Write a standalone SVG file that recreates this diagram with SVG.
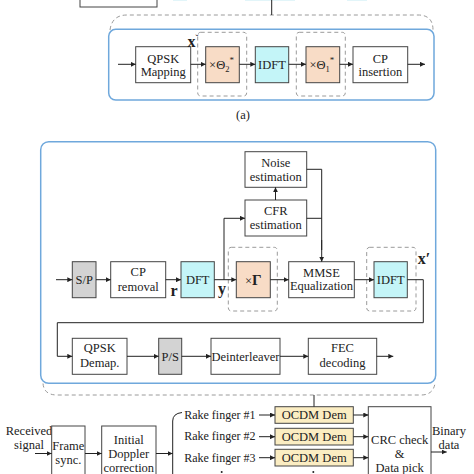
<svg xmlns="http://www.w3.org/2000/svg" width="474" height="474" viewBox="0 0 474 474">
<defs>
<marker id="ah" viewBox="0 0 10 10" refX="10" refY="5" markerWidth="5" markerHeight="5" orient="auto" markerUnits="userSpaceOnUse"><path d="M0,0 L10,5 L0,10 z" fill="#222"/></marker>
</defs>
<style>
text{font-family:"Liberation Serif","Times New Roman",serif;font-size:12.5px;fill:#222;text-anchor:middle}
.b{fill:#fff;stroke:#444;stroke-width:1}
.cy{fill:#c4f5f8;stroke:#444;stroke-width:1}
.pe{fill:#f8dcc6;stroke:#444;stroke-width:1}
.gr{fill:#d3d3d3;stroke:#444;stroke-width:1}
.ye{fill:#fbedc2;stroke:#444;stroke-width:1}
.blue{fill:none;stroke:#6fa8dc;stroke-width:1.5}
.dash{fill:none;stroke:#9a9a9a;stroke-width:1;stroke-dasharray:4,3}
.ln{fill:none;stroke:#222;stroke-width:1}
.ar{fill:none;stroke:#222;stroke-width:1;marker-end:url(#ah)}
.bv{font-weight:bold;font-size:16px}
.faint{fill:#e2f5f9}
.rk{font-size:12px;text-anchor:end}
</style>

<!-- top remnant -->
<g id="top-remnant">
<rect class="b" x="80" y="-10" width="77" height="17"/>
<rect class="faint" x="173" y="-3" width="14" height="4"/>
<rect class="faint" x="245" y="-3" width="50" height="4"/>
<rect class="faint" x="347" y="-3" width="20" height="4"/>
</g>

<!-- section (a) -->
<g id="frame-a">
<path class="dash" d="M110,30 Q112,15 127,15 H418 Q433,15 433,30"/>
<rect class="blue" x="108.7" y="29.3" width="325.3" height="70.7" rx="7"/>
<rect class="dash" x="197.7" y="32.3" width="49" height="63.7" rx="3"/>
<rect class="dash" x="296.3" y="32.3" width="49" height="63.7" rx="3"/>
</g>
<g id="qpsk-map"><rect class="b" x="135.7" y="46.7" width="55" height="36"/><text x="163.2" y="62.5">QPSK</text><text x="163.2" y="76">Mapping</text></g>
<g id="theta2"><rect class="pe" x="205.7" y="46.7" width="33.6" height="36"/><text x="221.5" y="69" font-size="13.5">×Θ<tspan font-size="8.5" dy="3">2</tspan><tspan font-size="9" dy="-9">*</tspan></text></g>
<g id="idft-a"><rect class="cy" x="255.3" y="46.7" width="33.4" height="36"/><text x="272" y="68.7">IDFT</text></g>
<g id="theta1"><rect class="pe" x="306" y="46.7" width="33.7" height="36"/><text x="321.8" y="69" font-size="13.5">×Θ<tspan font-size="8.5" dy="3">1</tspan><tspan font-size="9" dy="-9">*</tspan></text></g>
<g id="cp-ins"><rect class="b" x="353" y="46.7" width="54.7" height="36"/><text x="380.3" y="62.5">CP</text><text x="380.3" y="76">insertion</text></g>
<g id="label-x"><text class="bv" x="193" y="47" font-size="14">x<tspan font-size="9" font-weight="normal" dy="-6">ˇ</tspan></text></g>
<g id="label-a"><text x="243" y="119">(a)</text></g>

<!-- section (b) -->
<g id="frame-b">
<rect class="blue" x="40.7" y="141.7" width="395" height="241.6" rx="8"/>
<path class="dash" d="M43,383.5 Q44,395 57,395 H421 Q433,395 435,383.5"/>
<rect class="dash" x="228.3" y="247.3" width="49" height="63.7" rx="3"/>
<rect class="dash" x="366.7" y="247.3" width="49.3" height="63.7" rx="3"/>
</g>
<g id="noise"><rect class="b" x="245" y="151.7" width="61.7" height="35.6"/><text x="275.8" y="167">Noise</text><text x="275.8" y="180.7">estimation</text></g>
<g id="cfr"><rect class="b" x="245" y="200" width="61.7" height="36"/><text x="275.8" y="215">CFR</text><text x="275.8" y="229">estimation</text></g>
<g id="sp"><rect class="gr" x="72.3" y="261.7" width="23.7" height="36"/><text x="84.2" y="283.9">S/P</text></g>
<g id="cp-rem"><rect class="b" x="110.7" y="261.7" width="55" height="36"/><text x="138.2" y="275.7">CP</text><text x="138.2" y="290.7">removal</text></g>
<g id="dft"><rect class="cy" x="181" y="261.7" width="33.3" height="36"/><text x="197.7" y="283.9">DFT</text></g>
<g id="gamma"><rect class="pe" x="236.3" y="261.7" width="34" height="36"/><text x="253.3" y="284.5" font-size="13.5">×<tspan font-weight="bold" font-size="15">Γ</tspan></text></g>
<g id="mmse"><rect class="b" x="288.7" y="261.7" width="65.6" height="36"/><text x="321.5" y="276.7">MMSE</text><text x="321.5" y="290">Equalization</text></g>
<g id="idft-b"><rect class="cy" x="374" y="261.7" width="33.3" height="36"/><text x="390.7" y="283.9">IDFT</text></g>
<g id="qpsk-demap"><rect class="b" x="72.3" y="338.3" width="54.7" height="36"/><text x="99.7" y="352.3">QPSK</text><text x="99.7" y="367.3">Demap.</text></g>
<g id="ps"><rect class="gr" x="158.7" y="338.3" width="23" height="36"/><text x="170.2" y="360.7">P/S</text></g>
<g id="deint"><rect class="b" x="211" y="338.3" width="69" height="36"/><text x="245.5" y="360.7">Deinterleaver</text></g>
<g id="fec"><rect class="b" x="308.3" y="338.3" width="68.4" height="36"/><text x="342.5" y="352.3">FEC</text><text x="342.5" y="367.3">decoding</text></g>
<g id="labels-b">
<text class="bv" x="174" y="295.5" font-size="17">r</text>
<text class="bv" x="222" y="294" font-size="16">y</text>
<text class="bv" x="424" y="263.5" font-size="16">x′</text>
</g>

<!-- bottom section -->
<g id="received"><text x="29" y="435">Received</text><text x="29" y="449">signal</text></g>
<g id="frame-sync"><rect class="b" x="51.7" y="426" width="33.3" height="60"/><text x="68.3" y="450">Frame</text><text x="68.3" y="464">sync.</text></g>
<g id="doppler"><rect class="b" x="101.7" y="426" width="54.3" height="60"/><text x="128.8" y="443.5">Initial</text><text x="128.8" y="457.5">Doppler</text><text x="128.8" y="471.5">correction</text></g>
<g id="rake-labels">
<text class="rk" x="255.5" y="418.5">Rake finger #1</text>
<text class="rk" x="255.5" y="440">Rake finger #2</text>
<text class="rk" x="255.5" y="461.5">Rake finger #3</text>
<circle cx="221.7" cy="472" r="1" fill="#222"/>
<circle cx="313.3" cy="472" r="1" fill="#222"/>
</g>
<g id="ocdm1"><rect class="ye" x="275" y="406.7" width="78.3" height="16.6"/><text x="314.2" y="419.3">OCDM Dem</text></g>
<g id="ocdm2"><rect class="ye" x="275" y="428.3" width="78.3" height="16.7"/><text x="314.2" y="440.9">OCDM Dem</text></g>
<g id="ocdm3"><rect class="ye" x="275" y="449.3" width="78.3" height="16.7"/><text x="314.2" y="461.9">OCDM Dem</text></g>
<g id="crc"><rect class="b" x="368.3" y="406.7" width="62.7" height="80"/><text x="399.7" y="443.5">CRC check</text><text x="399.7" y="457.5">&amp;</text><text x="399.7" y="471.5">Data pick</text></g>
<g id="binary"><text x="449" y="435">Binary</text><text x="449" y="449">data</text></g>

<!-- connectors -->
<g id="connectors">
<line class="ln" x1="271.7" y1="0" x2="271.7" y2="15"/>
<line class="ar" x1="118" y1="64.3" x2="135.7" y2="64.3"/>
<line class="ar" x1="190.7" y1="64.3" x2="205.7" y2="64.3"/>
<line class="ar" x1="239.3" y1="64.3" x2="255.3" y2="64.3"/>
<line class="ar" x1="288.7" y1="64.3" x2="306" y2="64.3"/>
<line class="ar" x1="339.7" y1="64.3" x2="353" y2="64.3"/>
<line class="ar" x1="407.7" y1="64.3" x2="425" y2="64.3"/>

<line class="ar" x1="275.5" y1="200" x2="275.5" y2="187.3"/>
<polyline class="ln" points="306.7,169.3 321.7,169.3 321.7,250"/>
<line class="ar" x1="321.7" y1="240" x2="321.7" y2="261.7"/>
<line class="ln" x1="306.7" y1="218.3" x2="321.7" y2="218.3"/>
<polyline class="ar" points="224,279.7 224,218.3 245,218.3"/>
<line class="ar" x1="56" y1="279.7" x2="72.3" y2="279.7"/>
<line class="ar" x1="96" y1="279.7" x2="110.7" y2="279.7"/>
<line class="ar" x1="165.7" y1="279.7" x2="181" y2="279.7"/>
<line class="ar" x1="214.3" y1="279.7" x2="236.3" y2="279.7"/>
<line class="ar" x1="270.3" y1="279.7" x2="288.7" y2="279.7"/>
<line class="ar" x1="354.3" y1="279.7" x2="374" y2="279.7"/>
<polyline class="ar" points="407.3,279.7 423.3,279.7 423.3,322.7 57.3,322.7 57.3,356.3 72.3,356.3"/>
<line class="ar" x1="127" y1="356.3" x2="158.7" y2="356.3"/>
<line class="ar" x1="181.7" y1="356.3" x2="211" y2="356.3"/>
<line class="ar" x1="280" y1="356.3" x2="308.3" y2="356.3"/>
<line class="ar" x1="376.7" y1="356.3" x2="393.3" y2="356.3"/>

<line class="ln" x1="314" y1="395" x2="314" y2="406.7"/>
<line class="ar" x1="35" y1="453.5" x2="51.7" y2="453.5"/>
<line class="ar" x1="85" y1="453.5" x2="101.7" y2="453.5"/>
<line class="ar" x1="156" y1="453.5" x2="172.7" y2="453.5"/>
<path class="ln" d="M172.7,480 V421 Q172.7,413.5 182,412.5"/>
<line class="ar" x1="259" y1="415" x2="275" y2="415"/>
<line class="ar" x1="259" y1="436.7" x2="275" y2="436.7"/>
<line class="ar" x1="259" y1="457.7" x2="275" y2="457.7"/>
<line class="ar" x1="353.3" y1="415" x2="368.3" y2="415"/>
<line class="ar" x1="353.3" y1="436.7" x2="368.3" y2="436.7"/>
<line class="ar" x1="353.3" y1="457.7" x2="368.3" y2="457.7"/>
<line class="ar" x1="431" y1="452" x2="446.7" y2="452"/>
</g>
</svg>
